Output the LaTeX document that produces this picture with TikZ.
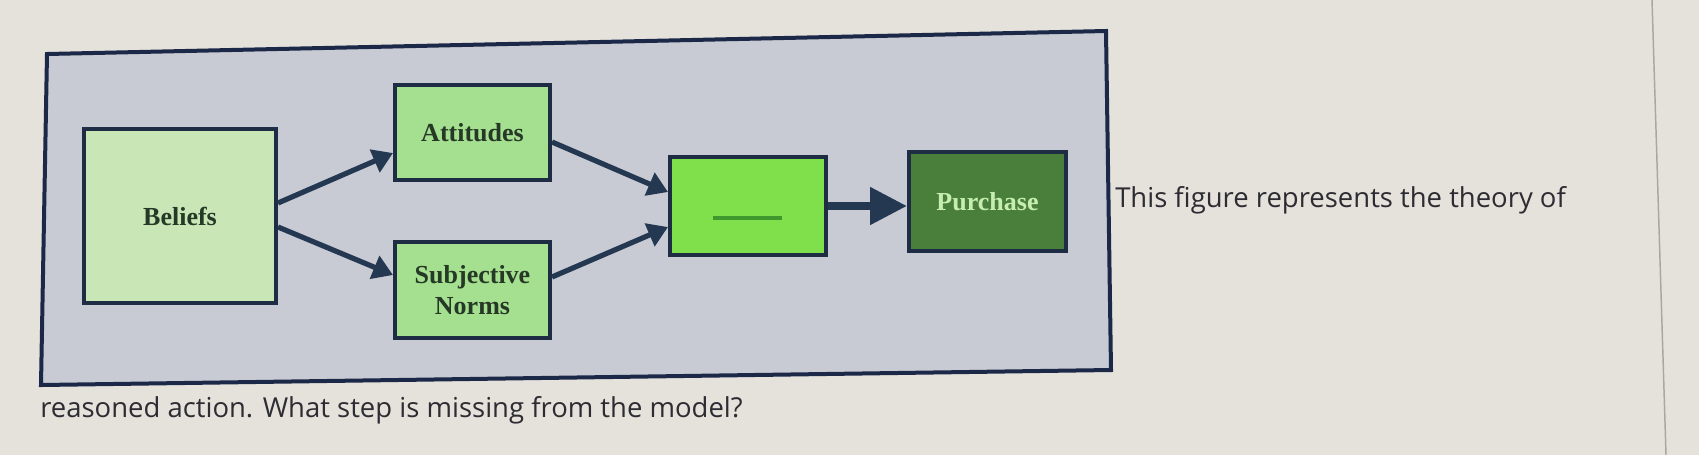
\documentclass[tikz,border=0pt]{standalone}
\usepackage{fontspec}
\setmainfont{Open Sans}
\newfontfamily\labelfont{Liberation Serif}
\usetikzlibrary{arrows.meta}

\begin{document}
\begin{tikzpicture}[x=0.75pt,y=0.75pt,yscale=-1,xscale=1,
	box/.style={draw={rgb, 255:red, 30; green, 45; blue, 68 }, line width=3pt, inner sep=0pt, align=center,
		font=\labelfont\bfseries\fontsize{19.5}{23.25}\selectfont, text={rgb, 255:red, 38; green, 56; blue, 38 }},
	flow/.style={draw={rgb, 255:red, 36; green, 56; blue, 82 }, line width=3.9pt, -{Triangle[length=15pt,width=18pt]}},
	bigflow/.style={draw={rgb, 255:red, 36; green, 56; blue, 82 }, line width=6pt, -{Triangle[length=27.75pt,width=27pt]}},
	bodytext/.style={anchor=base west, inner sep=0.75pt, text={rgb, 255:red, 44; green, 44; blue, 50 }, font=\fontsize{20.6}{24}\selectfont}]
	%uncomment if require: \path (0,455); %set diagram left start at 0, and has height of 455
	
	%Shape: Rectangle [id:background] 
	\fill [fill={rgb, 255:red, 229; green, 226; blue, 220 }] (0,0) rectangle (1699,455) ;
	\useasboundingbox (0,0) rectangle (1699,455) ;
	%Straight Lines [id:pageedge] 
	\draw [color={rgb, 255:red, 170; green, 167; blue, 160 }, line width=1.1pt] (1652,0) -- (1666,455) ;
	%Shape: Panel [id:panel] 
	\draw [draw={rgb, 255:red, 28; green, 40; blue, 72 }, line width=3pt, fill={rgb, 255:red, 200; green, 203; blue, 211 }] (47,54) -- (1106,31) -- (1111,370) -- (41,385) -- cycle ;
	
	%Shape: Rectangle [id:beliefs] 
	\node [box, fill={rgb, 255:red, 201; green, 230; blue, 183 }, minimum width=144pt, minimum height=130.5pt] (beliefs) at (180,216) {Beliefs};
	%Shape: Rectangle [id:attitudes] 
	\node [box, fill={rgb, 255:red, 164; green, 224; blue, 143 }, minimum width=116.25pt, minimum height=71.25pt] (attitudes) at (472.5,132.5) {Attitudes};
	%Shape: Rectangle [id:norms] 
	\node [box, fill={rgb, 255:red, 164; green, 224; blue, 143 }, minimum width=116.25pt, minimum height=72pt] (norms) at (472.5,290) {Subjective\\Norms};
	%Shape: Rectangle [id:missing] 
	\node [box, fill={rgb, 255:red, 128; green, 224; blue, 76 }, minimum width=117pt, minimum height=73.5pt] (missing) at (748,206) {};
	%Shape: Rectangle [id:purchase] 
	\node [box, fill={rgb, 255:red, 74; green, 127; blue, 59 }, text={rgb, 255:red, 199; green, 238; blue, 178 }, minimum width=117.75pt, minimum height=74.25pt] (purchase) at (987.5,201.5) {Purchase};
	%Straight Lines [id:blank] 
	\draw [color={rgb, 255:red, 62; green, 152; blue, 45 }, line width=2.4pt] (713,218) -- (782,218) ;
	
	%Straight Lines [id:beliefs-attitudes] 
	\draw [flow] ([yshift=-9.75pt]beliefs.east) -- ([yshift=15.4pt]attitudes.west) ;
	%Straight Lines [id:beliefs-norms] 
	\draw [flow] ([yshift=8.25pt]beliefs.east) -- ([yshift=-11.25pt]norms.west) ;
	%Straight Lines [id:attitudes-missing] 
	\draw [flow] ([yshift=7.1pt]attitudes.east) -- ([yshift=-10.5pt]missing.west) ;
	%Straight Lines [id:norms-missing] 
	\draw [flow] ([yshift=-9.75pt]norms.east) -- ([yshift=15.75pt]missing.west) ;
	%Straight Lines [id:missing-purchase] 
	\draw [bigflow] (missing.east) -- (missing.east -| purchase.west) ;
	
	% Text Node
	\node [bodytext] (theorytxt) at (1114,207) {This figure represents the theory of};
	% Text Node
	\node [bodytext] (questiontxt) at (39,417) {reasoned action. What step is missing from the model?};
	
\end{tikzpicture}
\end{document}
